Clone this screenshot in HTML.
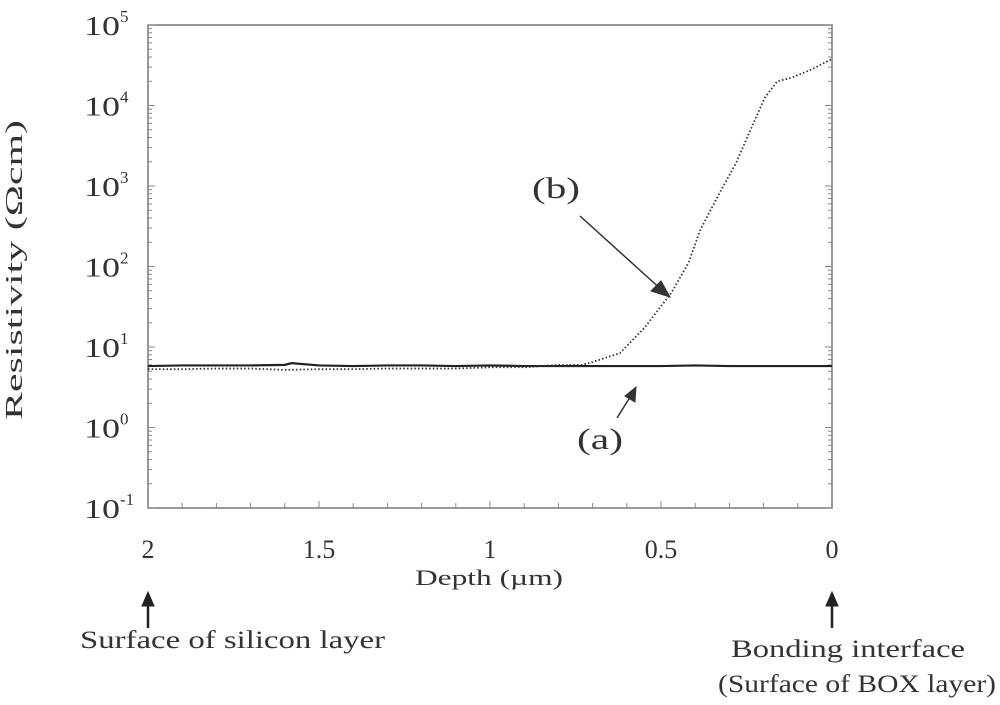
<!DOCTYPE html>
<html><head><meta charset="utf-8"><style>
body{margin:0;background:#fff;}
svg{display:block;font-family:"Liberation Serif",serif;}
</style></head><body>
<svg id="chart" width="1000" height="705" viewBox="0 0 1000 705">
<g id="axes"></g>
<g id="series"></g>
<text x="22" y="270" font-size="24" fill="#333" text-anchor="middle" textLength="300" lengthAdjust="spacingAndGlyphs" transform="rotate(-90 22 270)">Resistivity (Ωcm)</text>
<text x="489" y="585" font-size="22" fill="#333" text-anchor="middle" textLength="148" lengthAdjust="spacingAndGlyphs">Depth (µm)</text>
<text x="556" y="198" font-size="30" fill="#333" text-anchor="middle" textLength="48" lengthAdjust="spacingAndGlyphs">(b)</text>
<text x="600" y="449" font-size="30" fill="#333" text-anchor="middle" textLength="46" lengthAdjust="spacingAndGlyphs">(a)</text>
<g stroke="#333" fill="#333">
<line x1="580" y1="216" x2="664" y2="292" stroke-width="1.5"/>
<polygon points="670,297 651,291 661,281" />
<line x1="617" y1="418" x2="632" y2="394" stroke-width="1.5"/>
<polygon points="636,387 635,402 625,396"/>
</g>
<g stroke="#222" fill="#222">
<line x1="148" y1="628" x2="148" y2="602" stroke-width="2.5"/><polygon points="148,592 142,606 154,606"/>
<line x1="832" y1="628" x2="832" y2="602" stroke-width="2.5"/><polygon points="832,592 826,606 838,606"/>
</g>
<text x="80" y="648" font-size="25" fill="#333" textLength="305" lengthAdjust="spacingAndGlyphs">Surface of silicon layer</text>
<text x="848" y="657" font-size="25" fill="#333" text-anchor="middle" textLength="234" lengthAdjust="spacingAndGlyphs">Bonding interface</text>
<text x="857" y="692" font-size="25" fill="#333" text-anchor="middle" textLength="278" lengthAdjust="spacingAndGlyphs">(Surface of BOX layer)</text>
</svg>
<script>
const xTicks=[2,1.5,1,0.5,0];
const yExps=[-1,0,1,2,3,4,5];
const depthA=[2,1.9,1.8,1.7,1.6,1.58,1.5,1.4,1.3,1.2,1.1,1.0,0.9,0.8,0.7,0.6,0.5,0.4,0.3,0.2,0.1,0];
const resA=[5.8,5.9,5.9,5.9,6.0,6.3,5.9,5.8,5.9,5.9,5.8,5.9,5.8,5.8,5.8,5.8,5.8,5.9,5.8,5.8,5.8,5.8];
const depthB=[2,1.9,1.8,1.7,1.6,1.5,1.4,1.3,1.2,1.1,1.0,0.9,0.8,0.73,0.7,0.62,0.55,0.47,0.42,0.386,0.33,0.28,0.23,0.196,0.16,0.12,0.06,0];
const resB=[5.3,5.3,5.4,5.4,5.2,5.3,5.3,5.4,5.4,5.4,5.6,5.6,6.0,6.0,6.5,8.4,17,47,110,280,800,1950,6000,12600,20000,22000,28000,38000];
const X0=148,X1=832,Y0=508,Y1=25;
const sx=d=>X0+(2-d)/2*(X1-X0);
const sy=v=>Y0-(Math.log10(v)+1)/6*(Y0-Y1);
const NS="http://www.w3.org/2000/svg";
function mk(t,a,p){const e=document.createElementNS(NS,t);for(const k in a)e.setAttribute(k,a[k]);p.appendChild(e);return e;}
const ax=document.getElementById('axes');
const frame=mk('rect',{x:X0,y:Y1,width:X1-X0,height:Y0-Y1,fill:'none',stroke:'#777','stroke-width':1.5},ax);


for(let e=-1;e<5;e++){for(let m=2;m<=9;m++){const y=sy(m*Math.pow(10,e));
mk('line',{x1:X0,x2:X0+4,y1:y,y2:y,stroke:'#888'},ax);mk('line',{x1:X1,x2:X1-4,y1:y,y2:y,stroke:'#888'},ax);}}
yExps.forEach(e=>{const y=sy(Math.pow(10,e));
mk('line',{x1:X0,x2:X0+7,y1:y,y2:y,stroke:'#888'},ax);mk('line',{x1:X1,x2:X1-7,y1:y,y2:y,stroke:'#888'},ax);
const t=mk('text',{x:84,y:y+10,'font-size':27,fill:'#333'},ax);


const b=mk('tspan',{textLength:36,lengthAdjust:'spacingAndGlyphs'},t);b.textContent='10';
const s=mk('tspan',{dy:-13,'font-size':17},t);s.textContent=String(e);});
for(let i=1;i<20;i++){const x=sx(2-i*0.1);mk('line',{x1:x,x2:x,y1:Y0,y2:Y0-(i%5?5:7),stroke:'#888'},ax);}
xTicks.forEach(d=>{const t=mk('text',{x:sx(d),y:558,'font-size':26,fill:'#333','text-anchor':'middle'},ax);


t.textContent=String(d);});
const sr=document.getElementById('series');
const pa=mk('polyline',{points:depthA.map((d,i)=>sx(d)+','+sy(resA[i])).join(' '),fill:'none',stroke:'#222','stroke-width':2.2},sr);


const pb=mk('polyline',{points:depthB.map((d,i)=>sx(d)+','+sy(resB[i])).join(' '),fill:'none',stroke:'#333','stroke-width':1.8,'stroke-dasharray':'1.5 2.2'},sr);


</script>
</body></html>
